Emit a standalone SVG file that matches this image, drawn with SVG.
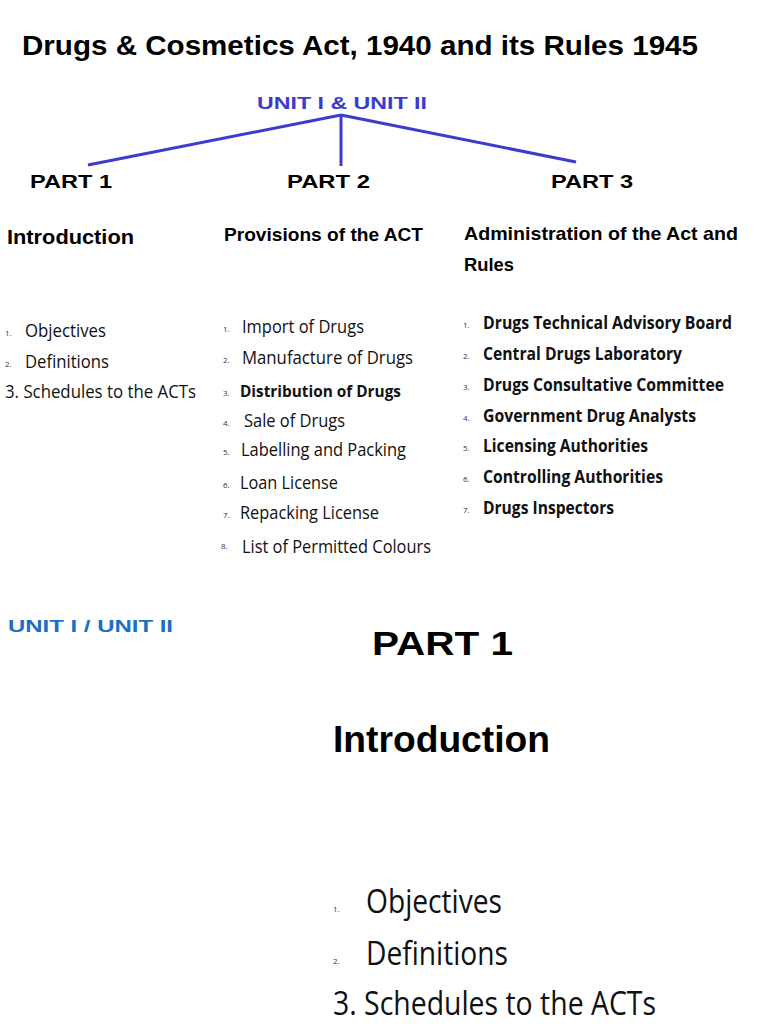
<svg xmlns="http://www.w3.org/2000/svg" width="768" height="1024" viewBox="0 0 768 1024">
<style>
.b{font-family:"Liberation Sans",Arial,sans-serif;font-weight:bold;fill:#000}
.u{font-family:"Liberation Sans",Arial,sans-serif;font-weight:bold}
.c{font-family:"Open Sans","Noto Sans",sans-serif;fill:#111}
.cb{font-family:"Open Sans","Noto Sans",sans-serif;font-weight:bold;fill:#111}
.n{font-family:"Open Sans",sans-serif;font-size:8px;fill:#333}
</style>
<rect width="768" height="1024" fill="#fff"/>
<g id="title"><text class="b" x="22" y="55" font-size="28" textLength="676" lengthAdjust="spacingAndGlyphs">Drugs &amp; Cosmetics Act, 1940 and its Rules 1945</text></g>
<g id="unit"><text class="u" x="257" y="109" font-size="17" fill="#3b3bd0" textLength="170" lengthAdjust="spacingAndGlyphs">UNIT I &amp; UNIT II</text></g>
<g id="connectors" stroke="#3b3bd0" stroke-width="3" fill="none">
<line x1="341" y1="115" x2="88" y2="165"/>
<line x1="341" y1="115" x2="341" y2="166"/>
<line x1="341" y1="115" x2="576" y2="162"/>
</g>
<g id="part1"><text class="b" x="30" y="188" font-size="18" textLength="82" lengthAdjust="spacingAndGlyphs">PART  1</text>
<text class="b" x="7" y="244" font-size="21" textLength="127" lengthAdjust="spacingAndGlyphs">Introduction</text>
<text class="n" x="5" y="336">1.</text><text class="c" x="25" y="337" font-size="19" textLength="81" lengthAdjust="spacingAndGlyphs">Objectives</text>
<text class="n" x="5" y="367">2.</text><text class="c" x="25" y="368" font-size="19" textLength="84" lengthAdjust="spacingAndGlyphs">Definitions</text>
<text class="c" x="5" y="398" font-size="19" textLength="191" lengthAdjust="spacingAndGlyphs">3. Schedules to the ACTs</text>
</g>
<g id="part2"><text class="b" x="287" y="188" font-size="18" textLength="83" lengthAdjust="spacingAndGlyphs">PART  2</text>
<text class="b" x="224" y="241" font-size="19" textLength="199" lengthAdjust="spacingAndGlyphs">Provisions of the ACT</text>
<g class="c" font-size="19">
<text x="242" y="333" textLength="122" lengthAdjust="spacingAndGlyphs">Import of Drugs</text>
<text x="242" y="364" textLength="171" lengthAdjust="spacingAndGlyphs">Manufacture of Drugs</text>
<text x="240" y="397" class="cb" font-size="16" textLength="161" lengthAdjust="spacingAndGlyphs">Distribution of Drugs</text>
<text x="244" y="427" textLength="101" lengthAdjust="spacingAndGlyphs">Sale of Drugs</text>
<text x="241" y="456" textLength="165" lengthAdjust="spacingAndGlyphs">Labelling and Packing</text>
<text x="240" y="489" textLength="98" lengthAdjust="spacingAndGlyphs">Loan License</text>
<text x="240" y="519" textLength="139" lengthAdjust="spacingAndGlyphs">Repacking License</text>
<text x="242" y="553" textLength="189" lengthAdjust="spacingAndGlyphs">List of Permitted Colours</text>
</g>
<text class="n" x="223" y="332">1.</text><text class="n" x="223" y="363">2.</text><text class="n" x="223" y="396">3.</text><text class="n" x="223" y="426">4.</text><text class="n" x="223" y="455">5.</text><text class="n" x="223" y="488">6.</text><text class="n" x="223" y="518">7.</text><text class="n" x="221" y="549">8.</text>
</g>
<g id="part3"><text class="b" x="551" y="188" font-size="18" textLength="82" lengthAdjust="spacingAndGlyphs">PART  3</text>
<text class="b" x="464" y="240" font-size="19" textLength="274" lengthAdjust="spacingAndGlyphs">Administration of the Act and</text>
<text class="b" x="464" y="271" font-size="19" textLength="50" lengthAdjust="spacingAndGlyphs">Rules</text>
<g class="cb" font-size="17">
<text x="483" y="329" textLength="249" lengthAdjust="spacingAndGlyphs">Drugs Technical Advisory Board</text>
<text x="483" y="360" textLength="199" lengthAdjust="spacingAndGlyphs">Central Drugs Laboratory</text>
<text x="483" y="391" textLength="241" lengthAdjust="spacingAndGlyphs">Drugs Consultative Committee</text>
<text x="483" y="422" textLength="213" lengthAdjust="spacingAndGlyphs">Government Drug Analysts</text>
<text x="483" y="452" textLength="165" lengthAdjust="spacingAndGlyphs">Licensing Authorities</text>
<text x="483" y="483" textLength="180" lengthAdjust="spacingAndGlyphs">Controlling Authorities</text>
<text x="483" y="514" textLength="131" lengthAdjust="spacingAndGlyphs">Drugs Inspectors</text>
</g>
<text class="n" x="463" y="328">1.</text><text class="n" x="463" y="359">2.</text><text class="n" x="463" y="390">3.</text><text class="n" x="463" y="421">4.</text><text class="n" x="463" y="451">5.</text><text class="n" x="463" y="482">6.</text><text class="n" x="463" y="513">7.</text>
</g>
<g id="unit2"><text class="u" x="8" y="632" font-size="16" fill="#1a6fc0" textLength="165" lengthAdjust="spacingAndGlyphs">UNIT I /  UNIT II</text></g>
<g id="bigpart"><text class="b" x="372" y="655" font-size="33" textLength="141" lengthAdjust="spacingAndGlyphs">PART  1</text>
<text class="b" x="333" y="752" font-size="36" fill="#222" textLength="217" lengthAdjust="spacingAndGlyphs">Introduction</text>
<text class="n" x="333" y="912" font-size="13">1.</text><text class="c" x="366" y="913" font-size="32" textLength="136" lengthAdjust="spacingAndGlyphs">Objectives</text>
<text class="n" x="333" y="964" font-size="13">2.</text><text class="c" x="366" y="965" font-size="32" textLength="142" lengthAdjust="spacingAndGlyphs">Definitions</text>
<text class="c" x="333" y="1015" font-size="32" textLength="323" lengthAdjust="spacingAndGlyphs">3. Schedules to the ACTs</text>
</g>
</svg>
